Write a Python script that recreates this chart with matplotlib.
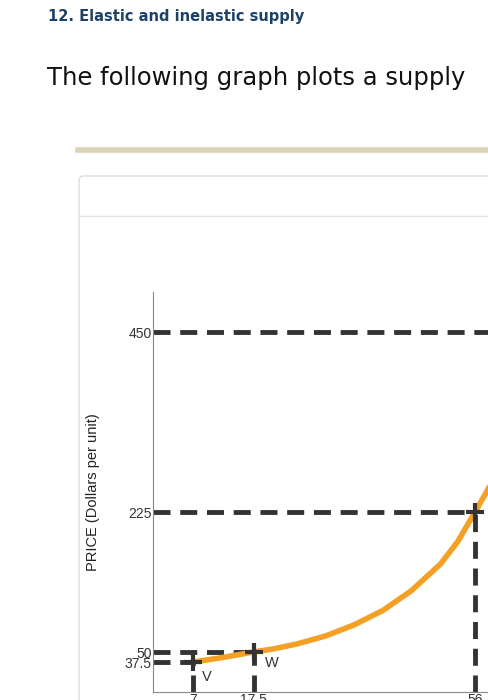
import matplotlib
matplotlib.use("Agg")
import matplotlib.pyplot as plt
from matplotlib.patches import FancyBboxPatch
from matplotlib.lines import Line2D

curve_q = [7, 12, 17.5, 21, 25, 30, 35, 40, 45, 50, 53, 56, 58, 60, 62]
curve_p = [37.5, 43, 50, 54, 60, 70, 84, 102, 127, 160, 188, 225, 250, 278, 310]
pts_q = [7, 17.5, 56]
pts_p = [37.5, 50, 225]
yticks = [37.5, 50, 225, 450]
yticklabels = ["37.5", "50", "225", "450"]
xticks = [7, 17.5, 56]
xticklabels = ["7", "17.5", "56"]

W, H = 489, 700
fig = plt.figure(figsize=(W/100, H/100), dpi=100)

def fx(px): return px / W
def fy(py): return 1 - py / H

fig.text(fx(48), fy(17), "12. Elastic and inelastic supply", fontsize=10.5, fontweight="bold",
         color="#1d4266", va="center", ha="left")
fig.text(fx(47), fy(78), "The following graph plots a supply", fontsize=17.5, color="#111111",
         va="center", ha="left")
fig.add_artist(Line2D([fx(78), fx(489)], [fy(150), fy(150)], color="#dcd2b4", lw=4))
fig.add_artist(FancyBboxPatch((fx(79), fy(760)), fx(500), fy(176) - fy(760),
                              boxstyle="round,pad=0,rounding_size=0.008", fc="none",
                              ec="#dddddd", lw=1))
fig.add_artist(Line2D([fx(79), fx(489)], [fy(216), fy(216)], color="#e2e2e2", lw=1))

x0, x1 = 153, 613
y0, y1 = 692, 292
ax = fig.add_axes([fx(x0), fy(y0), (x1 - x0) / W, (y0 - y1) / H])
ax.set_xlim(0, 80)
ax.set_ylim(0, 500)
for s in ["top", "right"]:
    ax.spines[s].set_visible(False)
for s in ["left", "bottom"]:
    ax.spines[s].set_color("#888888")
ax.set_yticks(yticks)
ax.set_yticklabels(yticklabels, fontsize=10, color="#333333", family="Liberation Sans")
ax.set_xticks(xticks)
ax.set_xticklabels(xticklabels, fontsize=10, color="#333333", family="Liberation Sans")
ax.tick_params(length=0, pad=1)
ax.set_ylabel("PRICE (Dollars per unit)", fontsize=10.5, color="#222222", labelpad=18,
              family="Liberation Sans")

dash = dict(color="#333333", lw=3.5, dashes=(3.5, 2))
ax.plot([0, 80], [450, 450], **dash, clip_on=False)
for q, p in zip(pts_q, pts_p):
    ax.plot([0, q], [p, p], **dash)
    ax.plot([q, q], [0, p], **dash)

ax.plot(curve_q, curve_p, color="#f4a024", lw=4, solid_capstyle="round", zorder=3)
ax.plot(pts_q, pts_p, "+", color="#333333", ms=13, mew=3, zorder=4)
ax.text(7 + 1.5, 37.5 - 10, "V", fontsize=10.5, color="#333333", va="top", ha="left",
        family="Liberation Sans")
ax.text(17.5 + 2, 50 - 5, "W", fontsize=10.5, color="#333333", va="top", ha="left",
        family="Liberation Sans")

fig.savefig("out.png", dpi=100)
